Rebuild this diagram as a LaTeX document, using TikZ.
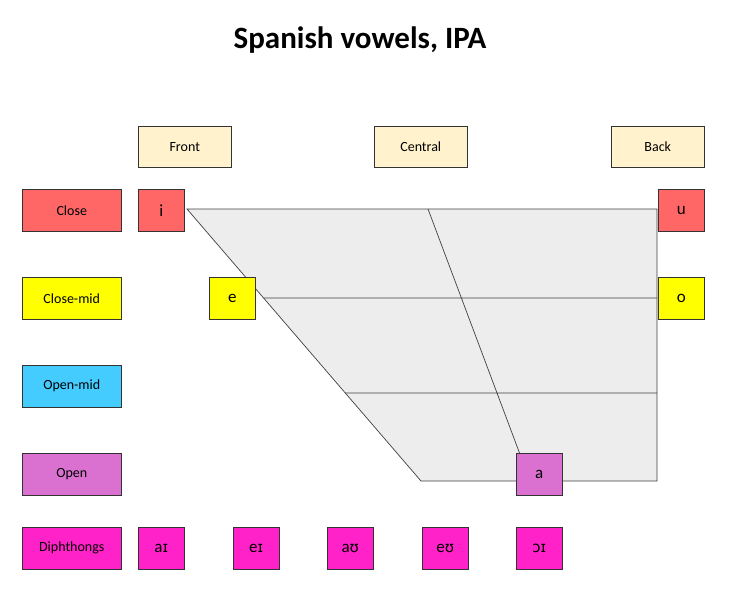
\documentclass[tikz,border=0pt]{standalone}
\usepackage{fontspec}
\setmainfont{Carlito}
\newfontfamily\ipafont{DejaVu Sans}
\begin{document}
\begin{tikzpicture}[x=1pt,y=-1pt,
 bx/.style={draw=black!80,line width=0.5pt,anchor=north west,inner sep=0pt,font=\fontsize{14}{16}\selectfont},
 vw/.style={bx,font=\fontsize{17}{19}\selectfont},
 ipa/.style={},
 grid/.style={draw=black!75,line width=0.7pt}]
\useasboundingbox (0,0) rectangle (735,592);
\definecolor{hdr}{HTML}{FFF2CC}
\definecolor{cl}{HTML}{FF6666}
\definecolor{cm}{HTML}{FFFF00}
\definecolor{om}{HTML}{44CCFF}
\definecolor{op}{HTML}{DA70D0}
\definecolor{di}{HTML}{FF22C8}
\node[font=\bfseries\fontsize{31}{34}\selectfont] (title) at (360,40) {Spanish vowels, IPA};
% trapezoid
\coordinate (tl) at (187,209); \coordinate (tr) at (657,209);
\coordinate (br) at (657,481); \coordinate (bl) at (421,481);
\fill[black!7] (tl)--(tr)--(br)--(bl)--cycle;
\coordinate (cm1) at (263.5,298); \coordinate (cm2) at (657,298);
\coordinate (om1) at (345,393); \coordinate (om2) at (657,393);
\coordinate (c1) at (428,209); \coordinate (c2) at (530,481);
\draw[grid] (cm1)--(cm2) (om1)--(om2) (c1)--(c2);
\draw[grid] (tl)--(tr)--(br)--(bl)--cycle;
% headers
\node[bx,fill=hdr,minimum width=93pt,minimum height=41pt] (front) at (138,126) {Front};
\node[bx,fill=hdr,minimum width=93pt,minimum height=41pt] (central) at (374,126) {Central};
\node[bx,fill=hdr,minimum width=93pt,minimum height=41pt] (back) at (611,126) {Back};
% row labels
\node[bx,fill=cl,minimum width=99pt,minimum height=42pt] (close) at (22,189) {Close};
\node[bx,fill=cm,minimum width=99pt,minimum height=42pt] (closemid) at (22,277) {Close-mid};
\node[bx,fill=om,minimum width=99pt,minimum height=42pt] (openmid) at (22,365) {Open-mid};
\node[bx,fill=op,minimum width=99pt,minimum height=42pt] (open) at (22,453) {Open};
\node[bx,fill=di,minimum width=99pt,minimum height=42pt] (diph) at (22,527) {Diphthongs};
% vowels
\node[vw,fill=cl,minimum width=46pt,minimum height=42pt] (i) at (138,189) {i};
\node[vw,fill=cl,minimum width=46pt,minimum height=42pt] (u) at (658,189) {u};
\node[vw,fill=cm,minimum width=46pt,minimum height=42pt] (e) at (209,277) {e};
\node[vw,fill=cm,minimum width=46pt,minimum height=42pt] (o) at (658,277) {o};
\node[vw,fill=op,minimum width=46pt,minimum height=42pt] (a) at (516,453) {a};
% diphthongs
\node[vw,fill=di,minimum width=46pt,minimum height=42pt] (d1) at (138,527) {a{\ipafont\fontsize{15}{17}\selectfont ɪ}};
\node[vw,fill=di,minimum width=46pt,minimum height=42pt] (d2) at (233,527) {e{\ipafont\fontsize{15}{17}\selectfont ɪ}};
\node[vw,fill=di,minimum width=46pt,minimum height=42pt] (d3) at (327,527) {a{\ipafont\fontsize{15}{17}\selectfont ʊ}};
\node[vw,fill=di,minimum width=46pt,minimum height=42pt] (d4) at (422,527) {e{\ipafont\fontsize{15}{17}\selectfont ʊ}};
\node[vw,fill=di,minimum width=46pt,minimum height=42pt] (d5) at (516,527) {{\ipafont\fontsize{15}{17}\selectfont ɔɪ}};
\end{tikzpicture}
\end{document}
